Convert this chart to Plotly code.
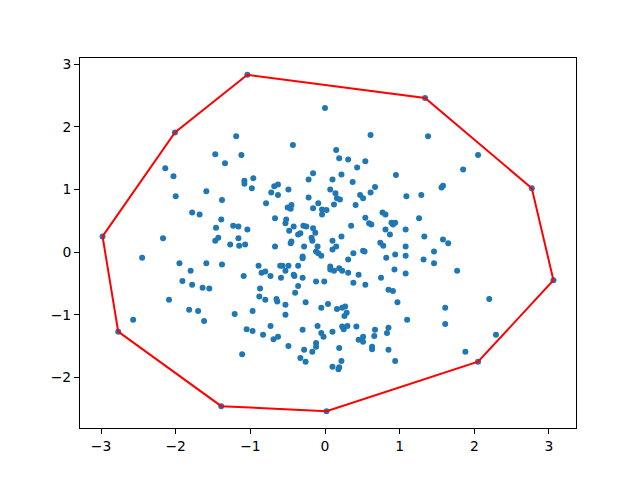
import plotly.graph_objects as go

# point coordinates
xs = [
    -1.04, 1.34, 2.77, 3.06, 2.05, 0.02, -1.39, -2.77, -2.98, -2.01,
    -1.19, -1.47, -1.34, -1.12, -2.14, -2.03, -1.08, -1.08,
    0.00, 0.61, -0.43, 0.15, 0.19, 0.31, 0.54, 0.43, -0.16, -0.22, 0.10, 0.22, 0.37, 0.95, -0.96, -0.63, -0.68, 0.67,
    1.38, 2.05, 1.85, 1.58, 1.56,
    -0.98, -2.00, -1.59, -1.38, -1.78, -1.68, -1.39, -1.46, -1.23, -1.16, -1.04, -2.17, -1.43, -1.47, -1.16, -1.27, -1.15, -1.07,
    -2.45, -1.95, -1.59, -1.38, -1.80, -1.09, -1.91, -1.78, -1.64, -1.55, -2.09,
    -1.82, -1.70, -1.62, -2.57, -1.21, -1.05, -1.11,
    -0.97, -0.80, -0.64, -0.53, -0.26, -0.53, -0.05, 0.04, 0.16, 0.23, 0.27, 0.29, 0.26, 0.97, 1.10,
    -0.97, -0.83, -0.73, -0.69, -0.63, -0.49, -0.30, -0.10, -0.05, -0.02, 0.10, 0.23, 0.25, 0.30, 0.42,
    0.45, 0.51, 0.51, 0.67, 0.66, 0.85, 0.83, 0.63, 0.63, 0.85, 0.94, -0.12, -0.12, -0.17, -0.28, -0.33,
    -0.26, 0.19, 0.22, 0.10, 0.18, 0.19,
    1.61, 1.61, 2.29, 1.88, 2.20,
    1.29, 1.26, 1.33, 1.58, 1.65, 1.46, 1.32, 1.46, 1.77,
    -0.72, -0.63, -0.49, 0.07, 0.14, 0.16, 0.20, 0.47, 0.51, 0.61, 1.09, -0.22, -0.79, -0.09, 0.12, 0.41,
    -0.50, -0.45, -0.46, -0.16, -0.04, 0.02, -0.04, -0.67, -0.52, -0.53, -0.42, -0.48, -0.29, -0.25,
    -0.16, -0.13, -0.33, -0.36, 0.35, 0.54, 0.59, 0.62, 0.77, 0.81, 0.89, 0.94, 0.91, 0.81, 0.87, 1.08,
    0.22, 0.10, -0.18, -0.17, -0.45, -0.46, -0.67, -0.28, -0.10, 0.15, 0.10, 0.74, 0.78, -0.12, -0.09,
    -0.05, 0.51, 0.53, 0.38, 1.08, -0.30, -0.30, 0.31, 0.82, 0.94, 1.08, -0.89, -0.60, -0.57, -0.49,
    -0.36, 0.07, 0.07, 0.12, 0.19, 0.23, 0.31, 0.45, 0.93, 1.08, -0.85, -0.80, -0.73, -0.53, -0.42,
    -0.41, -0.59, -0.30, 0.75, -0.12, -0.01, 0.38, 0.54, -0.36, -0.87, 0.85, 0.91, -0.40, -0.88, -0.65,
]
ys = [
    2.83, 2.46, 1.02, -0.45, -1.75, -2.54, -2.46, -1.27, 0.25, 1.91,
    1.85, 1.56, 1.42, 1.55, 1.34, 1.21, 1.14, 1.09,
    2.30, 1.87, 1.71, 1.63, 1.50, 1.48, 1.45, 1.35, 1.26, 1.16, 1.16, 1.24, 1.12, 1.23, 1.18, 1.08, 1.05, 1.04,
    1.85, 1.55, 1.32, 1.06, 1.03,
    1.02, 0.89, 0.97, 0.83, 0.63, 0.60, 0.52, 0.39, 0.42, 0.41, 0.36, 0.22, 0.23, 0.18, 0.22, 0.12, 0.10, 0.12,
    -0.09, -0.18, -0.18, -0.20, -0.30, -0.38, -0.46, -0.52, -0.57, -0.58, -0.76,
    -0.92, -0.94, -1.10, -1.08, -0.99, -1.23, -1.63,
    -0.94, -0.76, -0.79, -0.84, -0.80, -1.00, -0.89, -0.83, -0.91, -0.89, -0.87, -0.97, -1.02, -0.80, -1.08,
    -1.26, -1.32, -1.18, -1.39, -1.35, -1.50, -1.24, -1.18, -1.29, -1.35, -1.27, -1.19, -1.23, -1.18, -1.19,
    -1.40, -1.35, -1.43, -1.24, -1.34, -1.21, -1.29, -1.51, -1.55, -1.56, -1.74, -1.45, -1.51, -1.59, -1.56, -1.69,
    -1.75, -1.53, -1.74, -1.83, -1.87, -1.84,
    -0.89, -1.15, -1.32, -1.59, -0.75,
    0.91, 0.54, 0.25, 0.20, 0.14, 0.01, -0.12, -0.18, -0.30,
    0.95, 0.91, 1.00, 1.00, 0.94, 0.86, 0.84, 0.91, 0.86, 0.95, 0.89, 0.87, 0.78, 0.78, 0.76, 0.75,
    0.71, 0.75, 0.69, 0.70, 0.68, 0.67, 0.60, 0.54, 0.52, 0.46, 0.41, 0.34, 0.42, 0.41,
    0.38, 0.31, 0.30, 0.28, 0.42, 0.55, 0.46, 0.44, 0.63, 0.60, 0.47, 0.47, 0.44, 0.36, 0.28, 0.36,
    0.25, 0.18, 0.23, 0.18, 0.17, 0.14, 0.09, 0.09, 0.09, 0.09, 0.04, 0.15, 0.10, 0.01, -0.02,
    -0.06, 0.02, 0.01, -0.02, 0.09, -0.07, -0.10, -0.12, -0.09, -0.04, -0.06, -0.22, -0.22, -0.22, -0.22,
    -0.22, -0.23, -0.28, -0.30, -0.26, -0.30, -0.33, -0.36, -0.28, -0.34, -0.33, -0.31, -0.38, -0.30, -0.36,
    -0.38, -0.41, -0.41, -0.41, -0.47, -0.47, -0.49, -0.52, -0.54, -0.58, -0.60, -0.62, -0.65, -0.71, -0.75,
]

x_ticks = [-3, -2, -1, 0, 1, 2, 3]
y_ticks = [-2, -1, 0, 1, 2, 3]

pts = sorted(set(zip(xs, ys)))


def cross(o, a, b):
    return (a[0] - o[0]) * (b[1] - o[1]) - (a[1] - o[1]) * (b[0] - o[0])


lower = []
for p in pts:
    while len(lower) >= 2 and cross(lower[-2], lower[-1], p) <= 0:
        lower.pop()
    lower.append(p)
upper = []
for p in reversed(pts):
    while len(upper) >= 2 and cross(upper[-2], upper[-1], p) <= 0:
        upper.pop()
    upper.append(p)
hull = lower[:-1] + upper[:-1]
hull.append(hull[0])
hx = [p[0] for p in hull]
hy = [p[1] for p in hull]

fig = go.Figure()
fig.add_trace(go.Scatter(x=xs, y=ys, mode="markers",
                         marker=dict(color="#1f77b4", size=6, line=dict(width=0)),
                         showlegend=False, hoverinfo="skip"))
fig.add_trace(go.Scatter(x=hx, y=hy, mode="lines",
                         line=dict(color="red", width=2),
                         showlegend=False, hoverinfo="skip"))

xr = max(xs) - min(xs)
yr = max(ys) - min(ys)
axis_common = dict(showgrid=False, zeroline=False, showline=True, mirror=True,
                   linecolor="black", linewidth=1, ticks="outside", ticklen=5,
                   tickwidth=1, tickcolor="black",
                   tickfont=dict(family="DejaVu Sans", size=13.9, color="black"))
fig.update_xaxes(range=[min(xs) - 0.05 * xr, max(xs) + 0.05 * xr],
                 tickvals=x_ticks, ticktext=[str(v).replace("-", "\u2212") for v in x_ticks],
                 **axis_common)
fig.update_yaxes(range=[min(ys) - 0.05 * yr, max(ys) + 0.05 * yr],
                 tickvals=y_ticks, ticktext=[str(v).replace("-", "\u2212") for v in y_ticks],
                 **axis_common)
# page body adds an 8px offset, so margins are reduced by 8 on left/top
fig.update_layout(width=640, height=480, paper_bgcolor="white", plot_bgcolor="white",
                  margin=dict(l=72, r=72, t=50, b=60), showlegend=False)
fig.write_html("out.html")
